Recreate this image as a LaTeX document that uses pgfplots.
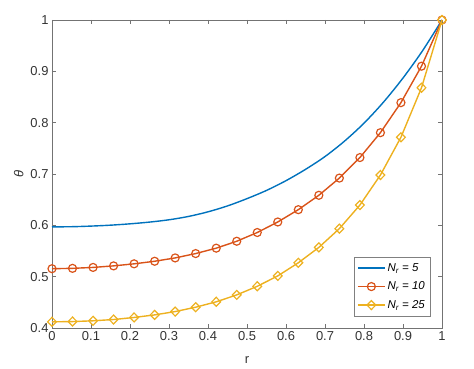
\documentclass[border=0pt]{standalone}
\usepackage{fontspec}
\setmainfont{Liberation Sans}
\usepackage{pgfplots}
\pgfplotsset{compat=1.18}
\definecolor{mblue}{rgb}{0,0.447,0.741}
\definecolor{morange}{rgb}{0.85,0.325,0.098}
\definecolor{myellow}{rgb}{0.929,0.694,0.125}
\begin{document}
\begin{tikzpicture}
\begin{axis}[
  scale only axis, width=390bp, height=308bp,
  xmin=0, xmax=1, ymin=0.4, ymax=1,
  clip=false,
  xtick={0,0.1,0.2,0.3,0.4,0.5,0.6,0.7,0.8,0.9,1},
  xticklabels={0,0.1,0.2,0.3,0.4,0.5,0.6,0.7,0.8,0.9,1},
  ytick={0.4,0.5,0.6,0.7,0.8,0.9,1},
  yticklabels={0.4,0.5,0.6,0.7,0.8,0.9,1},
  tick align=inside,
  major tick length=4bp,
  axis line style={black!55},
  every tick/.style={black!55, line width=0.5bp},
  ticklabel style={font=\fontsize{13}{15}\selectfont, text=black!80},
  /pgf/number format/assume math mode=true,
  xlabel={r},
  ylabel={\textit{θ}},
  xlabel style={font=\fontsize{13}{15}\selectfont, text=black!80, at={(axis description cs:0.5,-0.104)}, anchor=center},
  ylabel style={font=\fontsize{13}{15}\selectfont, text=black!80, at={(axis description cs:-0.085,0.5)}, anchor=center},
  legend cell align=left,
  legend style={at={(1,0)}, anchor=south east, xshift=-12bp, yshift=12bp,
    draw=black!50, fill=white, font=\fontsize{11.5}{13}\selectfont\itshape,
    row sep=5bp, inner xsep=3bp, inner ysep=4bp},
  legend image code/.code={\draw[mark repeat=2,mark phase=2] plot coordinates {(0bp,0bp)(13.5bp,0bp)(27bp,0bp)};},
]
\addplot[mblue, line width=1.4bp, smooth] coordinates {
(0,0.597)(0.05,0.5973)(0.1,0.5985)(0.15,0.6003)(0.2,0.6029)(0.25,0.6063)
(0.3,0.6108)(0.35,0.6173)(0.4,0.6263)(0.45,0.6378)(0.5,0.652)(0.55,0.668)
(0.6,0.687)(0.65,0.709)(0.7,0.734)(0.75,0.764)(0.8,0.799)(0.85,0.84)
(0.9,0.887)(0.95,0.94)(1,1)};
\addlegendentry{N\textsubscript{r} = 5}
\addplot[morange, line width=1.4bp, mark=o, mark size=4bp, mark options={line width=1.2bp}] coordinates {
(0,0.5155)(0.0526,0.5162)(0.1053,0.518)(0.1579,0.521)(0.2105,0.525)(0.2632,0.53)
(0.3158,0.5365)(0.3684,0.545)(0.4211,0.5555)(0.4737,0.569)(0.5263,0.586)(0.5789,0.6065)
(0.6316,0.6305)(0.6842,0.6585)(0.7368,0.692)(0.7895,0.732)(0.8421,0.7805)(0.8947,0.839)
(0.9474,0.91)(1,1)};
\addlegendentry{N\textsubscript{r} = 10}
\addplot[myellow, line width=1.4bp, mark=diamond, mark size=4.5bp, mark options={line width=1.2bp, xscale=1.3}] coordinates {
(0,0.412)(0.0526,0.4125)(0.1053,0.414)(0.1579,0.4165)(0.2105,0.4205)(0.2632,0.4255)
(0.3158,0.432)(0.3684,0.4405)(0.4211,0.451)(0.4737,0.4645)(0.5263,0.4812)(0.5789,0.5015)
(0.6316,0.527)(0.6842,0.557)(0.7368,0.5935)(0.7895,0.6395)(0.8421,0.698)(0.8947,0.7715)
(0.9474,0.868)(1,1)};
\addlegendentry{N\textsubscript{r} = 25}
\end{axis}
\path ([xshift=-52bp,yshift=-41bp]current axis.south west) rectangle ([xshift=32bp,yshift=20bp]current axis.north east);
\end{tikzpicture}
\end{document}
